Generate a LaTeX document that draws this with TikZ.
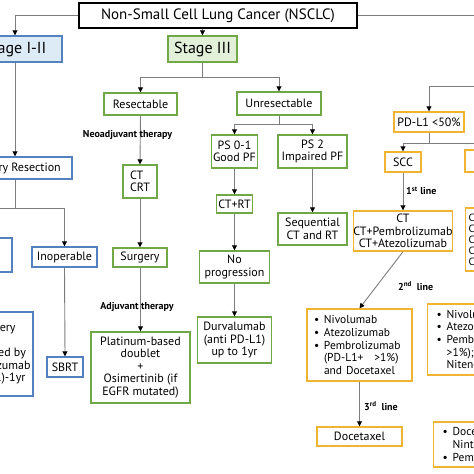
\documentclass[tikz,border=0pt]{standalone}
\usepackage{fontspec}
\setmainfont{PT Sans}
\usetikzlibrary{arrows.meta, positioning, calc}
\definecolor{myblue}{RGB}{84,130,190}
\definecolor{fillblue}{RGB}{221,235,247}
\definecolor{mygreen}{RGB}{112,168,72}
\definecolor{fillgreen}{RGB}{226,239,217}
\definecolor{myyellow}{RGB}{240,180,50}
\definecolor{linegray}{RGB}{125,125,125}
\newcommand{\bitem}[1]{\makebox[10pt][l]{\textbullet}#1}
\newcommand{\bcont}[1]{\makebox[10pt][l]{}#1}
\tikzset{
  base/.style={rectangle, align=center, inner sep=0pt, line width=1.4pt, fill=white, font=\fontsize{12}{12.5}\selectfont},
  blueblock/.style={base, draw=myblue},
  greenblock/.style={base, draw=mygreen},
  yellowblock/.style={base, draw=myyellow},
  listblock/.style={yellowblock, align=left, inner xsep=7pt, font=\fontsize{11.5}{12.7}\selectfont},
  titleblock/.style={base, draw=black, line width=1.6pt, font=\fontsize{15}{16}\selectfont},
  stagefont/.style={font=\fontsize{16}{17}\selectfont},
  sz/.style 2 args={minimum width=#1pt, minimum height=#2pt},
  arrow/.style={-{Triangle[length=5pt,width=5pt,color=black]}, line width=0.9pt, color=linegray},
  line/.style={line width=0.9pt, color=linegray},
  tag/.style={font=\bfseries\fontsize{10}{10}\selectfont, inner sep=1pt}
}
\begin{document}
\begin{tikzpicture}[x=1pt, y=-1pt]
  \useasboundingbox (0,0) rectangle (474,474);
  \fill[white] (0,0) rectangle (474,474);
  \clip (0,0) rectangle (474,474);

  % Top level
  \node[titleblock, sz={278}{25}] (nsclc) at (218,15.5) {Non-Small Cell Lung Cancer (NSCLC)};
  \node[blueblock, fill=fillblue, stagefont, sz={94}{26}] (stage12) at (15,49) {Stage I-II};
  \node[greenblock, fill=fillgreen, stagefont, sz={69}{26}] (stage3) at (202.5,49) {Stage III};
  \coordinate (stage4top) at (520,15.5);
  \coordinate (stage4mid) at (520,86);

  \draw[arrow] (nsclc.west) -| (stage12.north);
  \draw[arrow] (nsclc.south -| stage3.north) -- (stage3.north);
  \draw[line] (nsclc.east) -- (stage4top);

  % Stage I-II
  \node[blueblock, sz={114}{22}] (resection) at (15,168) {Primary Resection};
  \node[blueblock, sz={94}{34}] (operable) at (-35,255) {Operable};
  \node[blueblock, sz={65}{20}] (inop) at (64.5,257) {Inoperable};
  \node[blueblock, sz={74}{84}] (adjuv) at (-4,354) {Surgery\\+\\followed by\\Atezolizumab\\(PD-L1)-1yr};
  \node[blueblock, sz={36}{20}] (sbrt) at (65,367) {SBRT};

  \draw[arrow] (stage12.south) -- (resection.north);
  \draw[arrow] (resection.south) -- ++(0,29) -| (inop.north);
  \draw[arrow] (resection.south) -- ++(0,29) -| (operable.north);
  \draw[arrow] (inop.south) -- (sbrt.north);

  % Stage III, resectable
  \node[greenblock, sz={73}{22}] (resect) at (140.5,104) {Resectable};
  \node[greenblock, align=left, sz={34}{33}] (ctcrt) at (140,181.5) {CT\\CRT};
  \node[greenblock, sz={54}{19}] (surgery) at (140,257.5) {Surgery};
  \node[greenblock, sz={99}{71}] (platin) at (140.5,367.5) {Platinum-based\\doublet\\+\\Osimertinib (if\\EGFR mutated)};

  \draw[arrow] (stage3.south) -- ++(0,15) -| (resect.north);
  \draw[arrow] (resect.south) -- (ctcrt.north);
  \draw[arrow] (ctcrt.south) -- (surgery.north);
  \draw[arrow] (surgery.south -| platin.north) -- (platin.north);
  \node[tag] (neoadj) at (127.5,135) {Neoadjuvant therapy};
  \node[tag] (adjtag) at (137,307) {Adjuvant therapy};

  % Stage III, unresectable
  \node[greenblock, sz={84}{23}] (unresect) at (279,103.5) {Unresectable};
  \node[greenblock, sz={46}{33}] (ps01) at (234.5,151.5) {PS 0-1\\Good PF};
  \node[greenblock, sz={69}{33}] (ps2) at (312.5,151.5) {PS 2\\Impaired PF};
  \node[greenblock, sz={36}{18}] (ctrt) at (234.5,204) {CT+RT};
  \node[greenblock, sz={69}{32}] (seqct) at (312.5,229) {Sequential\\CT and RT};
  \node[greenblock, sz={70}{32}] (noprog) at (234.5,267) {No\\progression};
  \node[greenblock, sz={74}{46}] (durva) at (234.5,340) {Durvalumab\\(anti PD-L1)\\up to 1yr};

  \draw[arrow] (stage3.south) -- ++(0,15) -| (unresect.north);
  \draw[arrow] (unresect.south) -- ++(0,9) -| (ps01.north);
  \draw[arrow] (unresect.south) -- ++(0,9) -| (ps2.north);
  \draw[arrow] (ps01.south) -- (ctrt.north);
  \draw[arrow] (ps2.south) -- (seqct.north);
  \draw[arrow] (ctrt.south) -- (noprog.north);
  \draw[arrow] (noprog.south) -- (durva.north);

  % Stage IV, PD-L1 <50%
  \node[yellowblock, sz={70}{20}] (pdl1) at (429,122) {PD-L1 <50\%};
  \node[yellowblock, sz={36}{20}] (scc) at (403,162) {SCC};
  \node[yellowblock, sz={90}{22}] (nonscc) at (510,161) {Non-SCC};
  \node[yellowblock, sz={98}{40}] (ctscc) at (403,231) {CT\\CT+Pembrolizumab\\CT+Atezolizumab};
  \node[yellowblock, align=left, anchor=west, inner xsep=3pt, minimum height=63pt, font=\fontsize{10.5}{11}\selectfont] (ctnsq) at (465,239.5) {CT\\CT+Pembrolizumab\\CT+Atezolizumab\\CT+Bevacizumab\\CT+Atezolizumab+Bevacizumab};
  \node[listblock, text width=91pt, minimum height=72pt] (nivo) at (359.5,345) {\bitem{Nivolumab}\\\bitem{Atezolizumab}\\\bitem{Pembrolizumab}\\\bcont{\mbox{(PD-L1+\hspace{11pt}>1\%)}}\\\bcont{and Docetaxel}};
  \node[yellowblock, sz={85}{19}] (docet) at (359.5,436.5) {Docetaxel};
  \node[listblock, anchor=west, inner xsep=9pt, text width=160pt, minimum height=71pt] (nivonsq) at (427,339.5) {\bitem{Nivolumab}\\\bitem{Atezolizumab}\\\bitem{Pembrolizumab (PD-L1+}\\\bcont{>1\%); Docetaxel +}\\\bcont{Nitendanib}};
  \node[listblock, anchor=west, inner xsep=9pt, text width=120pt, minimum height=45pt] (docnint) at (433,444.5) {\bitem{Docetaxel +}\\\bcont{Nintedanib}\\\bitem{Pemetrexed}};

  \draw[arrow] (stage4mid) -| (pdl1.north);
  \draw[arrow] (pdl1.south) -- ++(0,11) -| (scc.north);
  \draw[arrow] (pdl1.south) -- ++(0,11) -| (nonscc.north);
  \draw[arrow] (scc.south) -- (ctscc.north);
  \draw[arrow] (ctscc.south) -- (nivo.north);
  \draw[arrow] (nivo.south) -- (docet.north);
  \node[tag, anchor=west] (line1) at (405,191) {1\textsuperscript{st} line};
  \node[tag, anchor=west] (line2) at (397,286) {2\textsuperscript{nd}\hspace{5pt}line};
  \node[tag, anchor=west] (line3) at (363,406) {3\textsuperscript{rd}\hspace{5pt}line};
\end{tikzpicture}
\end{document}
